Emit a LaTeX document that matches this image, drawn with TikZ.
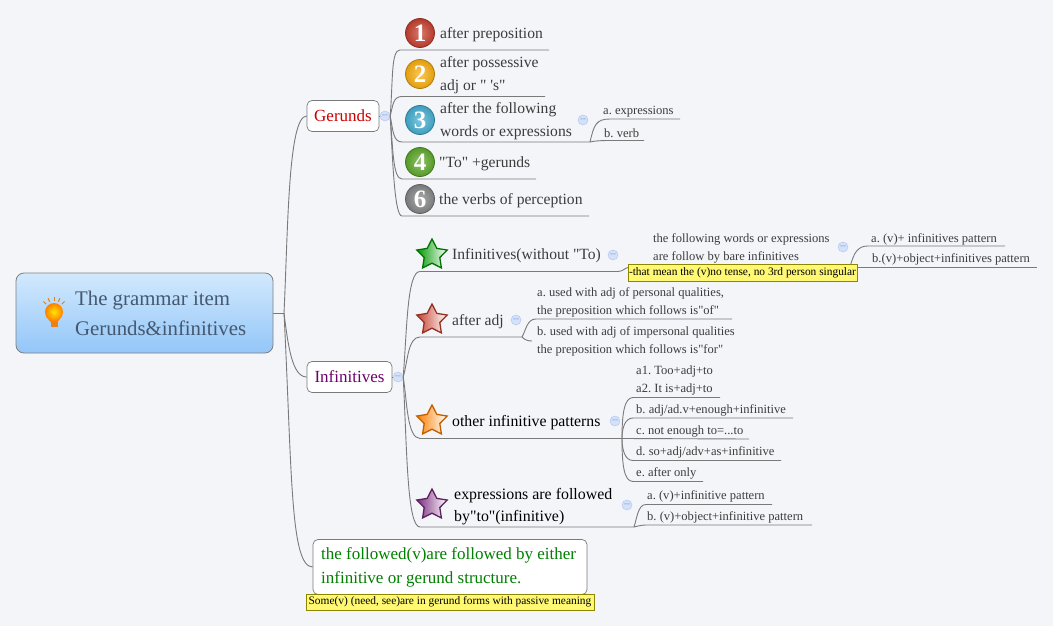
\documentclass[tikz,border=0pt]{standalone}
\usepackage{fontspec}
\newfontfamily\plainserif{Liberation Serif}
\usetikzlibrary{shapes.geometric}
\definecolor{paper}{HTML}{F3F5F9}
\definecolor{branchgray}{HTML}{7A7A7A}
\definecolor{rootink}{HTML}{44586F}
\definecolor{roottop}{HTML}{D2E9FD}
\definecolor{rootbottom}{HTML}{93C6F8}
\definecolor{itemink}{HTML}{3C3C3C}
\definecolor{foldfill}{HTML}{D3E2F7}
\definecolor{foldink}{HTML}{7F9FD0}
\definecolor{badgered}{HTML}{C8402F}
\definecolor{badgeorange}{HTML}{FBB010}
\definecolor{badgeblue}{HTML}{45AFD2}
\definecolor{badgegreen}{HTML}{5FAA2C}
\definecolor{badgegray}{HTML}{858888}
\definecolor{starpurple}{HTML}{7B2D80}
\tikzset{
  branch/.style={draw=branchgray, line width=.9pt},
  rootbox/.style={draw=gray, rounded corners=8pt, top color=roottop, bottom color=rootbottom, line width=.8pt},
  topicbox/.style={draw=branchgray, fill=white, rounded corners=5pt, line width=.7pt},
  item/.style={anchor=west, yshift=-1.5pt, inner sep=0pt, align=left, text=itemink, font=\fontsize{15.6}{23}\selectfont},
  subitem/.style={anchor=west, yshift=-1.5pt, inner sep=0pt, align=left, text=itemink, font=\fontsize{12.55}{18}\selectfont},
  foldmark/.style={circle, fill=foldfill, draw=foldfill!85!blue, minimum size=10pt, inner sep=0pt, text=foldink, font=\fontsize{9}{9}\selectfont},
  notebox/.style={draw=olive, fill=yellow!55, inner sep=0pt, text=black, font=\fontsize{11.4}{11.4}\selectfont},
  badge/.style={circle, draw=#1!70!black, line width=.8pt, inner color=#1!70!white, outer color=#1!90!black, minimum size=29pt, inner sep=0pt, text=white, font=\fontsize{25}{25}\selectfont\bfseries},
  starmark/.style={star, star points=5, star point ratio=1.95, draw=#1!75!black, line width=1.3pt, left color=#1, middle color=#1!55!white, right color=white, minimum size=32pt, inner sep=0pt},
}
\begin{document}
\plainserif\frenchspacing
\begin{tikzpicture}[x=1pt, y=-1pt]
    \useasboundingbox (0,0) rectangle (1053,626);
    \fill[paper] (0,0) rectangle (1053,626);

    \node[rootbox, minimum width=257pt, minimum height=80pt] (root) at (144.5,313) {};
    \node[anchor=west, inner sep=0pt, align=left, text=rootink, font=\fontsize{20.8}{30}\selectfont] (root text) at (75,313.5) {The grammar item\\Gerunds\&infinitives};
    \fill[orange!70!brown] (50.5,321) rectangle (57.5,327);
    \fill[orange] (46,316) -- (50.5,322) -- (57.5,322) -- (62,316) -- cycle;
    \shade[inner color=yellow!80!orange, outer color=orange] (54,312) circle (9);
    \foreach \ang in {45,67,90,113,135}
      \draw[orange!60!brown, line width=1pt] (54,312) ++(-\ang:11) -- ++(-\ang:4);

    \node[topicbox, minimum width=72pt, minimum height=31pt, text=red!80!black, font=\fontsize{17}{17}\selectfont] (gerunds) at (343,116) {Gerunds};
    \node[topicbox, minimum width=85pt, minimum height=31pt, text=violet!85!black, font=\fontsize{17}{17}\selectfont] (infinitives) at (349.5,377) {Infinitives};
    \node[topicbox, minimum width=274pt, minimum height=55pt] (followed) at (450,567) {};
    \node[anchor=west, inner sep=0pt, align=left, text=green!50!black, font=\fontsize{17}{24}\selectfont] (followed text) at (321,567) {the followed(v)are followed by either\\infinitive or gerund structure.};

    \coordinate (root fork) at (284,313);
    \draw[branch] (root) -- (root fork);
    \draw[branch] (root fork) .. controls (288,230) and (288,116) .. (gerunds.west);
    \draw[branch] (root fork) .. controls (288,345) and (292,377) .. (infinitives.west);
    \draw[branch] (root fork) .. controls (292,470) and (290,567) .. (followed.west);

    \node[foldmark] (gerunds fold) at (385,116) {--};
    \draw[branch] (gerunds) -- (gerunds fold);
    \coordinate (g1 a) at (400,50);  \coordinate (g1 b) at (549,50);
    \coordinate (g2 a) at (402,96.5);  \coordinate (g2 b) at (545,96.5);
    \coordinate (g3 a) at (402,142); \coordinate (g3 b) at (590,142);
    \coordinate (g4 a) at (402,179); \coordinate (g4 b) at (536,179);
    \coordinate (g6 a) at (402,216); \coordinate (g6 b) at (589,216);
    \draw[branch] (gerunds fold.east) .. controls (393,80) and (391,50) .. (g1 a) -- (g1 b);
    \draw[branch] (gerunds fold.east) .. controls (393,105) and (393,96.5) .. (g2 a) -- (g2 b);
    \draw[branch] (gerunds fold.east) .. controls (393,130) and (393,142) .. (g3 a) -- (g3 b);
    \draw[branch] (gerunds fold.east) .. controls (393,150) and (393,179) .. (g4 a) -- (g4 b);
    \draw[branch] (gerunds fold.east) .. controls (393,170) and (395,216) .. (g6 a) -- (g6 b);

    \node[badge=badgered] (b1) at (420,33) {1};
    \node[badge=badgeorange] (b2) at (420,74) {2};
    \node[badge=badgeblue] (b3) at (420,120) {3};
    \node[badge=badgegreen] (b4) at (420,162) {4};
    \node[badge=badgegray] (b6) at (420,199) {6};
    \node[item] (g1) at (440,33) {after preposition};
    \node[item] (g2) at (440,74) {after possessive\\adj or " 's"};
    \node[item] (g3) at (440,120) {after the following\\words or expressions};
    \node[item] (g4) at (439,162) {"To" +gerunds};
    \node[item] (g6) at (439,199) {the verbs of perception};

    \node[foldmark] (g3 fold) at (583,120) {--};
    \coordinate (g3a a) at (610,119); \coordinate (g3a b) at (680,119);
    \coordinate (g3b a) at (610,140.5); \coordinate (g3b b) at (644,140.5);
    \draw[branch] (g3 b) .. controls (594,125) and (596,119) .. (g3a a) -- (g3a b);
    \draw[branch] (g3 b) .. controls (594,141) and (600,140.5) .. (g3b a) -- (g3b b);
    \node[subitem] (g3a) at (603,110) {a. expressions};
    \node[subitem] (g3b) at (604,132) {b. verb};

    \node[foldmark] (infinitives fold) at (398,377) {--};
    \draw[branch] (infinitives) -- (infinitives fold);
    \coordinate (i1 a) at (420,271.5); \coordinate (i1 b) at (618,271.5); \coordinate (i1 c) at (850,267);
    \coordinate (i2 a) at (420,337);   \coordinate (i2 b) at (522,337);
    \coordinate (i3 a) at (420,438.5); \coordinate (i3 b) at (622,438.5);
    \coordinate (i4 a) at (420,527);   \coordinate (i4 b) at (634,527);
    \draw[branch] (infinitives fold.east) .. controls (407,330) and (407,271.5) .. (i1 a) -- (i1 b) .. controls (624,271.5) and (624,267) .. (632,267) -- (i1 c);
    \draw[branch] (infinitives fold.east) .. controls (408,360) and (408,337) .. (i2 a) -- (i2 b);
    \draw[branch] (infinitives fold.east) .. controls (407,400) and (407,438.5) .. (i3 a) -- (i3 b);
    \draw[branch] (infinitives fold.east) .. controls (407,450) and (407,527) .. (i4 a) -- (i4 b);

    \node[starmark=green!60!black] (s1) at (432,255) {};
    \node[starmark=badgered] (s2) at (432,320) {};
    \node[starmark=orange] (s3) at (432,421) {};
    \node[starmark=starpurple] (s4) at (432,505) {};
    \node[item] (i1) at (452,254) {Infinitives(without "To)};
    \node[item] (i2) at (452,320) {after adj};
    \node[item, text=black, font=\fontsize{15.8}{23}\selectfont] (i3) at (452,421) {other infinitive patterns};
    \node[item, text=black, font=\fontsize{15.9}{22}\selectfont] (i4) at (454,505) {expressions are followed\\by"to"(infinitive)};

    \node[foldmark] (i1 fold) at (613,255) {--};
    \node[subitem] (i1 text) at (653,247) {the following words or expressions\\are follow by bare infinitives};
    \node[foldmark] (i1 text fold) at (843,247) {--};
    \coordinate (i1a a) at (868,246); \coordinate (i1a b) at (1005,246);
    \coordinate (i1b b) at (1037,267);
    \draw[branch] (i1 c) .. controls (854,252) and (858,246) .. (i1a a) -- (i1a b);
    \draw[branch] (i1 c) -- (i1b b);
    \node[subitem] (i1a) at (871,238) {a. (v)+ infinitives pattern};
    \node[subitem] (i1b) at (872,258) {b.(v)+object+infinitives pattern};
    \node[notebox, minimum width=229pt, minimum height=17pt] (i1 note) at (742.5,272.5) {-that mean the (v)no tense, no 3rd person singular};

    \node[foldmark] (i2 fold) at (516,320) {--};
    \coordinate (i2a a) at (536,319); \coordinate (i2a b) at (732,319);
    \coordinate (i2b a) at (532,341);
    \draw[branch] (i2 b) .. controls (526,330) and (527,319) .. (i2a a) -- (i2a b);
    \draw[branch] (i2 b) .. controls (525,340) and (528,341) .. (i2b a);
    \node[subitem] (i2a) at (537,301) {a. used with adj of personal qualities,\\the preposition which follows is"of"};
    \node[subitem] (i2b) at (537,340) {b. used with adj of impersonal qualities\\the preposition which follows is"for"};

    \node[foldmark] (i3 fold) at (615,421) {--};
    \coordinate (i3a a) at (633,397.5); \coordinate (i3a b) at (720,397.5);
    \coordinate (i3b a) at (633,418);   \coordinate (i3b b) at (793,418);
    \coordinate (i3c b) at (749,439);
    \coordinate (i3d a) at (633,460.5); \coordinate (i3d b) at (781,460.5);
    \coordinate (i3e a) at (633,481.5); \coordinate (i3e b) at (703,481.5);
    \draw[branch] (i3 b) .. controls (622,415) and (624,397.5) .. (i3a a) -- (i3a b);
    \draw[branch] (i3 b) .. controls (622,428) and (625,418) .. (i3b a) -- (i3b b);
    \draw[branch] (i3 b) -- (i3c b);
    \draw[branch] (i3 b) .. controls (622,450) and (625,460.5) .. (i3d a) -- (i3d b);
    \draw[branch] (i3 b) .. controls (622,465) and (624,481.5) .. (i3e a) -- (i3e b);
    \node[subitem] (i3a) at (636,379) {a1. Too+adj+to\\a2. It is+adj+to};
    \node[subitem] (i3b) at (636,409) {b. adj/ad.v+enough+infinitive};
    \node[subitem] (i3c) at (636,430) {c. not enough to=...to};
    \node[subitem] (i3d) at (636,451) {d. so+adj/adv+as+infinitive};
    \node[subitem] (i3e) at (636,472) {e. after only};

    \node[foldmark] (i4 fold) at (627,505) {--};
    \coordinate (i4a a) at (646,504.5); \coordinate (i4a b) at (772,504.5);
    \coordinate (i4b a) at (646,525);   \coordinate (i4b b) at (812,525);
    \draw[branch] (i4 b) .. controls (637,518) and (638,504.5) .. (i4a a) -- (i4a b);
    \draw[branch] (i4 b) .. controls (638,526) and (642,525) .. (i4b a) -- (i4b b);
    \node[subitem] (i4a) at (647,495) {a. (v)+infinitive pattern};
    \node[subitem] (i4b) at (647,516) {b. (v)+object+infinitive pattern};

    \node[notebox, minimum width=288pt, minimum height=16pt] (followed note) at (450,602) {Some(v) (need, see)are in gerund forms with passive meaning};
\end{tikzpicture}
\end{document}
